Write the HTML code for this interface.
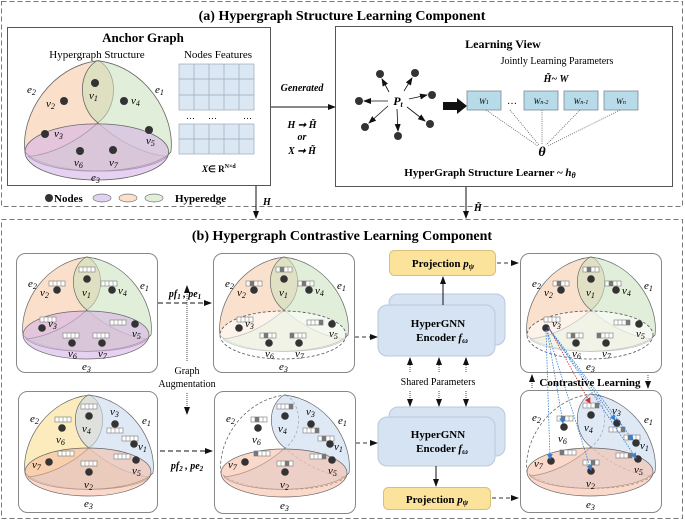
<!DOCTYPE html>
<html><head><meta charset="utf-8"><style>
html,body{margin:0;padding:0;background:#fff}
svg{display:block;font-family:"Liberation Serif",serif}
.t{font-size:11px;font-style:italic}
</style></head><body>
<svg width="685" height="521" viewBox="0 0 685 521" xmlns="http://www.w3.org/2000/svg">
<defs>
<marker id="ah" markerWidth="8" markerHeight="8" refX="7" refY="4" orient="auto" markerUnits="userSpaceOnUse"><path d="M0,1 L8,4 L0,7 Z" fill="#111"/></marker>
<marker id="ahb" markerWidth="6" markerHeight="6" refX="5" refY="3" orient="auto" markerUnits="userSpaceOnUse"><path d="M0,0 L6,3 L0,6 Z" fill="#3a7fd0"/></marker>
<marker id="ahr" markerWidth="6" markerHeight="6" refX="5" refY="3" orient="auto" markerUnits="userSpaceOnUse"><path d="M0,0 L6,3 L0,6 Z" fill="#d03030"/></marker>
<path id="e2p" d="M72,4 C90,15 88,45 71,57 C90,74 112,84 132,86 C110,104 25,102 7,82 C3,50 30,8 72,4 Z"/>
<g id="e1p"><use href="#e2p" transform="translate(142,0) scale(-1,1)"/></g>
<g id="fb"><rect x="0" y="0" width="16" height="5" fill="#fff" stroke="#888" stroke-width="0.7"/><path d="M4,0V5M8,0V5M12,0V5" stroke="#888" stroke-width="0.6"/></g>
<g id="fbm1"><use href="#fb"/><rect x="4" y="0" width="4" height="5" fill="#777"/></g>
<g id="fbm0"><use href="#fb"/><rect x="0" y="0" width="4" height="5" fill="#777"/></g>
<g id="fbm3"><use href="#fb"/><rect x="12" y="0" width="4" height="5" fill="#777"/></g>
<g id="fbm2"><use href="#fb"/><rect x="8" y="0" width="4" height="5" fill="#777"/></g>
</defs>

<rect x="1.5" y="1.5" width="681" height="205" fill="none" stroke="#777" stroke-dasharray="5,3" stroke-width="1"/>
<rect x="1.5" y="219.5" width="681" height="299" fill="none" stroke="#777" stroke-dasharray="5,3" stroke-width="1"/>
<text x="342" y="20" font-size="14" font-weight="bold" text-anchor="middle">(a) Hypergraph Structure Learning Component</text>
<text x="342" y="240" font-size="14" font-weight="bold" text-anchor="middle">(b) Hypergraph Contrastive Learning Component</text>

<!-- Anchor graph -->
<rect x="7.5" y="27.5" width="263" height="158" fill="#fff" stroke="#555"/>
<text x="143" y="42" font-size="13" font-weight="bold" text-anchor="middle">Anchor Graph</text>
<text x="97" y="58" font-size="11" text-anchor="middle">Hypergraph Structure</text>
<text x="218" y="58" font-size="11" text-anchor="middle">Nodes Features</text>
<g transform="translate(17,56) scale(1.14,1.17)" stroke="#666" stroke-width="0.7">
 <use href="#e2p" fill="#f6c9a6" fill-opacity="0.6"/>
 <use href="#e1p" fill="#c8e0bb" fill-opacity="0.55"/>
 <ellipse cx="70" cy="82" rx="63" ry="24" fill="#d6b4e6" fill-opacity="0.6"/>
</g>
<g fill="#333"><circle cx="95" cy="83" r="4"/><circle cx="64" cy="101" r="4"/><circle cx="124" cy="101" r="4"/><circle cx="45" cy="134" r="4"/><circle cx="149" cy="130" r="4"/><circle cx="80" cy="151" r="4"/><circle cx="113" cy="150" r="4"/></g>
<g class="t" font-size="13">
<text x="89" y="99">v<tspan font-size="8" dy="2">1</tspan></text>
<text x="46" y="107">v<tspan font-size="8" dy="2">2</tspan></text>
<text x="131" y="104">v<tspan font-size="8" dy="2">4</tspan></text>
<text x="54" y="137">v<tspan font-size="8" dy="2">3</tspan></text>
<text x="146" y="144">v<tspan font-size="8" dy="2">5</tspan></text>
<text x="74" y="166">v<tspan font-size="8" dy="2">6</tspan></text>
<text x="109" y="166">v<tspan font-size="8" dy="2">7</tspan></text>
<text x="27" y="93">e<tspan font-size="8" dy="2">2</tspan></text>
<text x="155" y="93">e<tspan font-size="8" dy="2">1</tspan></text>
<text x="91" y="181">e<tspan font-size="8" dy="2">3</tspan></text>
</g>
<g fill="#dbe7f3" stroke="#9aaabb" stroke-width="0.7">
 <rect x="179" y="64" width="75" height="46"/>
 <rect x="179" y="124" width="75" height="30"/>
</g>
<path d="M194,64V110M209,64V110M224,64V110M239,64V110M179,79H254M179,95H254M194,124V154M209,124V154M224,124V154M239,124V154M179,139H254" stroke="#9aaabb" stroke-width="0.7"/>
<text x="186" y="119" font-size="9">…</text><text x="208" y="119" font-size="9">…</text><text x="243" y="119" font-size="9">…</text>
<text x="202" y="172" font-size="9" font-weight="bold" font-style="italic">X<tspan font-style="normal">∈ R</tspan><tspan font-size="6" dy="-4" font-style="normal">N×d</tspan></text>

<circle cx="49" cy="198" r="4" fill="#333"/>
<text x="54" y="202" font-size="11" font-weight="bold">Nodes</text>
<ellipse cx="102" cy="198" rx="9" ry="4" fill="#e3d1f0" stroke="#777" stroke-width="0.7"/>
<ellipse cx="128" cy="198" rx="9" ry="4" fill="#fbe0cc" stroke="#777" stroke-width="0.7"/>
<ellipse cx="154" cy="198" rx="9" ry="4" fill="#e1efd8" stroke="#777" stroke-width="0.7"/>
<text x="175" y="202" font-size="11" font-weight="bold">Hyperedge</text>

<line x1="271" y1="107" x2="335" y2="107" stroke="#111" marker-end="url(#ah)"/>
<text x="302" y="91" font-size="10" font-weight="bold" font-style="italic" text-anchor="middle">Generated</text>
<text x="302" y="128" font-size="10" font-weight="bold" font-style="italic" text-anchor="middle">H ➞ H̃</text>
<text x="302" y="140" font-size="10" font-weight="bold" font-style="italic" text-anchor="middle">or</text>
<text x="302" y="154" font-size="10" font-weight="bold" font-style="italic" text-anchor="middle">X ➞ H̃</text>

<line x1="256" y1="186" x2="256" y2="218" stroke="#111" marker-end="url(#ah)"/>
<text x="263" y="205" font-size="10" font-weight="bold" font-style="italic">H</text>
<line x1="466" y1="187" x2="466" y2="218" stroke="#111" marker-end="url(#ah)"/>
<text x="474" y="211" font-size="10" font-weight="bold" font-style="italic">H̃</text>

<rect x="335.5" y="26.5" width="337" height="160" fill="#fff" stroke="#555"/>
<text x="503" y="48" font-size="12" font-weight="bold" text-anchor="middle">Learning View</text>
<text x="557" y="64" font-size="10" text-anchor="middle">Jointly Learning Parameters</text>
<text x="556" y="82" font-size="10" font-weight="bold" font-style="italic" text-anchor="middle">H̃~ W</text>
<text x="398" y="105" font-size="12" font-weight="bold" font-style="italic" text-anchor="middle">P<tspan font-size="8" dy="2">t</tspan></text>
<g fill="#333"><circle cx="380" cy="74" r="4"/><circle cx="415" cy="73" r="4"/><circle cx="432" cy="95" r="4"/><circle cx="359" cy="101" r="4"/><circle cx="365" cy="127" r="4"/><circle cx="398" cy="136" r="4"/><circle cx="430" cy="124" r="4"/></g>
<g stroke="#111" stroke-width="0.8" marker-end="url(#ah)">
<line x1="389" y1="92" x2="382" y2="79"/><line x1="404" y1="91" x2="412" y2="78"/><line x1="409" y1="99" x2="427" y2="95"/><line x1="388" y1="101" x2="364" y2="101"/><line x1="388" y1="106" x2="369" y2="123"/><line x1="397" y1="109" x2="398" y2="131"/><line x1="407" y1="107" x2="425" y2="121"/>
</g>
<path d="M443,102 H457 V98 L467,106 L457,114 V110 H443 Z" fill="#111"/>
<g fill="#b7dbe8" stroke="#7a8a95" stroke-width="0.8">
<rect x="467" y="91" width="34" height="19"/><rect x="524" y="91" width="34" height="19"/><rect x="564" y="91" width="34" height="19"/><rect x="604" y="91" width="34" height="19"/>
</g>
<g font-size="8" font-style="italic" text-anchor="middle">
<text x="484" y="104">W<tspan font-size="6">1</tspan></text><text x="541" y="104">W<tspan font-size="6">n-2</tspan></text><text x="581" y="104">W<tspan font-size="6">n-1</tspan></text><text x="621" y="104">W<tspan font-size="6">n</tspan></text>
</g>
<text x="512" y="104" font-size="10" text-anchor="middle">…</text>
<g stroke="#444" stroke-width="0.7" stroke-dasharray="1,1.2" fill="none">
<path d="M486,110 L538,146 M510,110 L539,145 M542,110 L542,144 M580,110 L546,145 M620,110 L548,146"/>
</g>
<text x="542" y="156" font-size="14" font-weight="bold" font-style="italic" text-anchor="middle">θ</text>
<text x="490" y="176" font-size="11" font-weight="bold" text-anchor="middle">HyperGraph Structure Learner ~ <tspan font-style="italic">h<tspan font-size="8" dy="2">θ</tspan></tspan></text>

<!-- panel 1 -->
<g transform="translate(16,253)">
 <rect x="0.5" y="0.5" width="141" height="119" rx="9" fill="#fff" stroke="#888"/>
 <g stroke="#666" stroke-width="0.7">
 <use href="#e2p" fill="#f6c9a6" fill-opacity="0.6"/>
 <use href="#e1p" fill="#c8e0bb" fill-opacity="0.55"/>
 <ellipse cx="70" cy="82" rx="63" ry="24" fill="#d6b4e6" fill-opacity="0.6"/>
 </g>
 <use href="#fb" x="63" y="14"/><use href="#fb" x="33" y="28"/><use href="#fb" x="85" y="28"/><use href="#fb" x="24" y="64"/><use href="#fb" x="94" y="67"/><use href="#fb" x="47" y="80"/><use href="#fb" x="77" y="80"/>
 <g fill="#333"><circle cx="71" cy="26" r="3.8"/><circle cx="41" cy="37" r="3.8"/><circle cx="96" cy="37" r="3.8"/><circle cx="26" cy="75" r="3.8"/><circle cx="119" cy="71" r="3.8"/><circle cx="56" cy="90" r="3.8"/><circle cx="86" cy="90" r="3.8"/></g>
 <g class="t" font-size="12">
  <text x="66" y="43">v<tspan font-size="8" dy="2">1</tspan></text><text x="24" y="43">v<tspan font-size="8" dy="2">2</tspan></text><text x="102" y="41">v<tspan font-size="8" dy="2">4</tspan></text><text x="32" y="74">v<tspan font-size="8" dy="2">3</tspan></text><text x="116" y="84">v<tspan font-size="8" dy="2">5</tspan></text><text x="52" y="104">v<tspan font-size="8" dy="2">6</tspan></text><text x="82" y="104">v<tspan font-size="8" dy="2">7</tspan></text>
  <text x="12" y="34">e<tspan font-size="8" dy="2">2</tspan></text><text x="124" y="36">e<tspan font-size="8" dy="2">1</tspan></text><text x="66" y="117">e<tspan font-size="8" dy="2">3</tspan></text>
 </g>
</g>

<!-- panel 2 -->
<g transform="translate(213,253)">
 <rect x="0.5" y="0.5" width="141" height="119" rx="9" fill="#fff" stroke="#888"/>
 <g stroke="#666" stroke-width="0.7">
 <use href="#e2p" fill="#f6c9a6" fill-opacity="0.55"/>
 <use href="#e1p" fill="#c8e0bb" fill-opacity="0.55"/>
 <ellipse cx="70" cy="82" rx="63" ry="24" fill="#fff" fill-opacity="0.6" stroke="#555" stroke-width="0.8" stroke-dasharray="3,2"/>
 </g>
 <use href="#fbm1" x="63" y="14"/><use href="#fbm1" x="33" y="28"/><use href="#fbm1" x="85" y="28"/><use href="#fb" x="24" y="64"/><use href="#fbm3" x="94" y="67"/><use href="#fbm1" x="47" y="80"/><use href="#fbm0" x="77" y="80"/>
 <g fill="#333"><circle cx="71" cy="26" r="3.8"/><circle cx="41" cy="37" r="3.8"/><circle cx="96" cy="37" r="3.8"/><circle cx="26" cy="75" r="3.8"/><circle cx="119" cy="71" r="3.8"/><circle cx="56" cy="90" r="3.8"/><circle cx="86" cy="90" r="3.8"/></g>
 <g class="t" font-size="12">
  <text x="66" y="43">v<tspan font-size="8" dy="2">1</tspan></text><text x="24" y="43">v<tspan font-size="8" dy="2">2</tspan></text><text x="102" y="41">v<tspan font-size="8" dy="2">4</tspan></text><text x="32" y="74">v<tspan font-size="8" dy="2">3</tspan></text><text x="116" y="84">v<tspan font-size="8" dy="2">5</tspan></text><text x="52" y="104">v<tspan font-size="8" dy="2">6</tspan></text><text x="82" y="104">v<tspan font-size="8" dy="2">7</tspan></text>
  <text x="12" y="34">e<tspan font-size="8" dy="2">2</tspan></text><text x="124" y="36">e<tspan font-size="8" dy="2">1</tspan></text><text x="66" y="117">e<tspan font-size="8" dy="2">3</tspan></text>
 </g>
</g>

<!-- right top -->
<g transform="translate(520,253)">
 <rect x="0.5" y="0.5" width="141" height="119" rx="9" fill="#fff" stroke="#888"/>
 <g stroke="#666" stroke-width="0.7">
 <use href="#e2p" fill="#f6c9a6" fill-opacity="0.55"/>
 <use href="#e1p" fill="#c8e0bb" fill-opacity="0.55"/>
 <ellipse cx="70" cy="82" rx="63" ry="24" fill="#fff" fill-opacity="0.6" stroke="#555" stroke-width="0.8" stroke-dasharray="3,2"/>
 </g>
 <use href="#fbm1" x="63" y="14"/><use href="#fbm1" x="33" y="28"/><use href="#fbm1" x="85" y="28"/><use href="#fb" x="24" y="64"/><use href="#fbm3" x="94" y="67"/><use href="#fbm1" x="47" y="80"/><use href="#fbm0" x="77" y="80"/>
 <g fill="#333"><circle cx="71" cy="26" r="3.8"/><circle cx="41" cy="37" r="3.8"/><circle cx="96" cy="37" r="3.8"/><circle cx="26" cy="75" r="3.8"/><circle cx="119" cy="71" r="3.8"/><circle cx="56" cy="90" r="3.8"/><circle cx="86" cy="90" r="3.8"/></g>
 <g class="t" font-size="12">
  <text x="66" y="43">v<tspan font-size="8" dy="2">1</tspan></text><text x="24" y="43">v<tspan font-size="8" dy="2">2</tspan></text><text x="102" y="41">v<tspan font-size="8" dy="2">4</tspan></text><text x="32" y="74">v<tspan font-size="8" dy="2">3</tspan></text><text x="116" y="84">v<tspan font-size="8" dy="2">5</tspan></text><text x="52" y="104">v<tspan font-size="8" dy="2">6</tspan></text><text x="82" y="104">v<tspan font-size="8" dy="2">7</tspan></text>
  <text x="12" y="34">e<tspan font-size="8" dy="2">2</tspan></text><text x="124" y="36">e<tspan font-size="8" dy="2">1</tspan></text><text x="66" y="117">e<tspan font-size="8" dy="2">3</tspan></text>
 </g>
</g>

<!-- panel 3 -->
<g transform="translate(18,391)">
 <rect x="0.5" y="0.5" width="139" height="121" rx="9" fill="#fff" stroke="#888"/>
 <g stroke="#666" stroke-width="0.7">
 <use href="#e2p" fill="#fbe29a" fill-opacity="0.65"/>
 <use href="#e1p" fill="#c9daf0" fill-opacity="0.6"/>
 <ellipse cx="70" cy="81" rx="63" ry="24" fill="#f5b9a0" fill-opacity="0.55"/>
 </g>
 <use href="#fb" x="63" y="13"/><use href="#fb" x="37" y="26"/><use href="#fb" x="89" y="37"/><use href="#fb" x="104" y="45"/><use href="#fb" x="40" y="60"/><use href="#fb" x="96" y="63"/><use href="#fb" x="63" y="70"/>
 <g fill="#333"><circle cx="71" cy="25" r="3.8"/><circle cx="44" cy="37" r="3.8"/><circle cx="97" cy="33" r="3.8"/><circle cx="116" cy="53" r="3.8"/><circle cx="31" cy="71" r="3.8"/><circle cx="118" cy="69" r="3.8"/><circle cx="71" cy="81" r="3.8"/></g>
 <g class="t" font-size="12">
  <text x="64" y="41">v<tspan font-size="8" dy="2">4</tspan></text><text x="38" y="52">v<tspan font-size="8" dy="2">6</tspan></text><text x="92" y="24">v<tspan font-size="8" dy="2">3</tspan></text><text x="120" y="59">v<tspan font-size="8" dy="2">1</tspan></text><text x="14" y="77">v<tspan font-size="8" dy="2">7</tspan></text><text x="114" y="83">v<tspan font-size="8" dy="2">5</tspan></text><text x="66" y="97">v<tspan font-size="8" dy="2">2</tspan></text>
  <text x="12" y="31">e<tspan font-size="8" dy="2">2</tspan></text><text x="124" y="33">e<tspan font-size="8" dy="2">1</tspan></text><text x="66" y="116">e<tspan font-size="8" dy="2">3</tspan></text>
 </g>
</g>

<!-- panel 4 -->
<g transform="translate(214,391)">
 <rect x="0.5" y="0.5" width="141" height="122" rx="9" fill="#fff" stroke="#888"/>
 <use href="#e2p" fill="none" stroke="#555" stroke-width="0.7" stroke-dasharray="3,2"/>
 <g stroke="#666" stroke-width="0.7">
 <use href="#e1p" fill="#c9daf0" fill-opacity="0.6"/>
 <ellipse cx="70" cy="82" rx="63" ry="24" fill="#f5b9a0" fill-opacity="0.55"/>
 </g>
 <use href="#fbm3" x="63" y="13"/><use href="#fbm1" x="37" y="26"/><use href="#fbm3" x="89" y="37"/><use href="#fbm1" x="104" y="45"/><use href="#fbm0" x="40" y="60"/><use href="#fbm3" x="96" y="63"/><use href="#fbm2" x="63" y="70"/>
 <g fill="#333"><circle cx="71" cy="25" r="3.8"/><circle cx="44" cy="37" r="3.8"/><circle cx="97" cy="33" r="3.8"/><circle cx="116" cy="53" r="3.8"/><circle cx="31" cy="71" r="3.8"/><circle cx="118" cy="69" r="3.8"/><circle cx="71" cy="81" r="3.8"/></g>
 <g class="t" font-size="12">
  <text x="64" y="41">v<tspan font-size="8" dy="2">4</tspan></text><text x="38" y="52">v<tspan font-size="8" dy="2">6</tspan></text><text x="92" y="24">v<tspan font-size="8" dy="2">3</tspan></text><text x="120" y="59">v<tspan font-size="8" dy="2">1</tspan></text><text x="14" y="77">v<tspan font-size="8" dy="2">7</tspan></text><text x="114" y="83">v<tspan font-size="8" dy="2">5</tspan></text><text x="66" y="97">v<tspan font-size="8" dy="2">2</tspan></text>
  <text x="12" y="31">e<tspan font-size="8" dy="2">2</tspan></text><text x="124" y="33">e<tspan font-size="8" dy="2">1</tspan></text><text x="66" y="118">e<tspan font-size="8" dy="2">3</tspan></text>
 </g>
</g>

<!-- right bottom -->
<g transform="translate(520,390)">
 <rect x="0.5" y="0.5" width="141" height="122" rx="9" fill="#fff" stroke="#888"/>
 <use href="#e2p" fill="none" stroke="#555" stroke-width="0.7" stroke-dasharray="3,2"/>
 <g stroke="#666" stroke-width="0.7">
 <use href="#e1p" fill="#c9daf0" fill-opacity="0.6"/>
 <ellipse cx="70" cy="82" rx="63" ry="24" fill="#f5b9a0" fill-opacity="0.55"/>
 </g>
 <use href="#fbm3" x="63" y="13"/><use href="#fbm1" x="37" y="26"/><use href="#fbm3" x="89" y="37"/><use href="#fbm1" x="104" y="45"/><use href="#fbm0" x="40" y="60"/><use href="#fbm3" x="96" y="63"/><use href="#fbm2" x="63" y="70"/>
 <g fill="#333"><circle cx="71" cy="25" r="3.8"/><circle cx="44" cy="37" r="3.8"/><circle cx="97" cy="33" r="3.8"/><circle cx="116" cy="53" r="3.8"/><circle cx="31" cy="71" r="3.8"/><circle cx="118" cy="69" r="3.8"/><circle cx="71" cy="81" r="3.8"/></g>
 <g class="t" font-size="12">
  <text x="64" y="41">v<tspan font-size="8" dy="2">4</tspan></text><text x="38" y="52">v<tspan font-size="8" dy="2">6</tspan></text><text x="92" y="24">v<tspan font-size="8" dy="2">3</tspan></text><text x="120" y="59">v<tspan font-size="8" dy="2">1</tspan></text><text x="14" y="77">v<tspan font-size="8" dy="2">7</tspan></text><text x="114" y="83">v<tspan font-size="8" dy="2">5</tspan></text><text x="66" y="97">v<tspan font-size="8" dy="2">2</tspan></text>
  <text x="12" y="31">e<tspan font-size="8" dy="2">2</tspan></text><text x="124" y="33">e<tspan font-size="8" dy="2">1</tspan></text><text x="66" y="118">e<tspan font-size="8" dy="2">3</tspan></text>
 </g>
</g>

<g stroke="#3a7fd0" stroke-width="0.8" stroke-dasharray="1.5,1.2" fill="none" marker-end="url(#ahb)">
<line x1="546" y1="330" x2="550" y2="459"/>
<line x1="547" y1="330" x2="563" y2="423"/>
<line x1="547" y1="330" x2="591" y2="470"/>
<line x1="548" y1="328" x2="615" y2="420"/>
<line x1="548" y1="327" x2="633" y2="440"/>
<line x1="548" y1="327" x2="636" y2="458"/>
</g>
<line x1="549" y1="328" x2="590" y2="403" stroke="#d03030" stroke-width="0.8" stroke-dasharray="1.5,1.2" marker-end="url(#ahr)"/>

<line x1="158" y1="303" x2="211" y2="303" stroke="#111" stroke-dasharray="5,3" marker-end="url(#ah)"/>
<text x="185" y="297" font-size="10" font-weight="bold" font-style="italic" text-anchor="middle">pf<tspan font-size="7" dy="2">1</tspan><tspan dy="-2"> , pe</tspan><tspan font-size="7" dy="2">1</tspan></text>
<line x1="160" y1="451" x2="212" y2="451" stroke="#111" stroke-dasharray="5,3" marker-end="url(#ah)"/>
<text x="187" y="469" font-size="10" font-weight="bold" font-style="italic" text-anchor="middle">pf<tspan font-size="7" dy="2">2</tspan><tspan dy="-2"> , pe</tspan><tspan font-size="7" dy="2">2</tspan></text>
<g stroke="#222" stroke-width="0.8" stroke-dasharray="1,1" marker-end="url(#ah)">
<line x1="187" y1="361" x2="187" y2="286"/>
<line x1="187" y1="393" x2="187" y2="414"/>
</g>
<text x="187" y="374" font-size="10" text-anchor="middle">Graph</text>
<text x="187" y="387" font-size="10" text-anchor="middle">Augmentation</text>

<line x1="355" y1="337" x2="377" y2="337" stroke="#333" stroke-dasharray="4,3" marker-end="url(#ah)"/>
<line x1="356" y1="443" x2="377" y2="443" stroke="#333" stroke-dasharray="4,3" marker-end="url(#ah)"/>

<rect x="389" y="294" width="116" height="51" rx="9" fill="#d5e3f3" stroke="#b9c8da"/>
<rect x="378" y="305" width="117" height="51" rx="9" fill="#d5e3f3" stroke="#b9c8da"/>
<text x="438" y="327" font-size="11" font-weight="bold" text-anchor="middle">HyperGNN</text>
<text x="442" y="341" font-size="11" font-weight="bold" text-anchor="middle">Encoder <tspan font-style="italic">f<tspan font-size="8" dy="2">ω</tspan></tspan></text>
<rect x="389" y="407" width="116" height="49" rx="9" fill="#d5e3f3" stroke="#b9c8da"/>
<rect x="378" y="417" width="117" height="49" rx="9" fill="#d5e3f3" stroke="#b9c8da"/>
<text x="438" y="438" font-size="11" font-weight="bold" text-anchor="middle">HyperGNN</text>
<text x="442" y="452" font-size="11" font-weight="bold" text-anchor="middle">Encoder <tspan font-style="italic">f<tspan font-size="8" dy="2">ω</tspan></tspan></text>

<rect x="389.5" y="250.5" width="106" height="25" rx="5" fill="#fbe39b" stroke="#d8c07a"/>
<text x="443" y="267" font-size="11" font-weight="bold" text-anchor="middle">Projection <tspan font-style="italic">p<tspan font-size="8" dy="2">ψ</tspan></tspan></text>
<rect x="383.5" y="487.5" width="107" height="22" rx="5" fill="#fbe39b" stroke="#d8c07a"/>
<text x="437" y="503" font-size="11" font-weight="bold" text-anchor="middle">Projection <tspan font-style="italic">p<tspan font-size="8" dy="2">ψ</tspan></tspan></text>
<line x1="443" y1="305" x2="443" y2="277" stroke="#111" marker-end="url(#ah)"/>
<line x1="436" y1="466" x2="436" y2="486" stroke="#111" marker-end="url(#ah)"/>
<line x1="497" y1="263" x2="518" y2="263" stroke="#333" stroke-dasharray="4,3" marker-end="url(#ah)"/>
<line x1="492" y1="498" x2="518" y2="498" stroke="#333" stroke-dasharray="4,3" marker-end="url(#ah)"/>

<g stroke="#222" stroke-width="0.8" stroke-dasharray="1,1" marker-end="url(#ah)">
<line x1="410" y1="372" x2="410" y2="358"/><line x1="439" y1="372" x2="439" y2="358"/><line x1="466" y1="372" x2="466" y2="358"/>
<line x1="410" y1="391" x2="410" y2="406"/><line x1="439" y1="391" x2="439" y2="406"/><line x1="466" y1="391" x2="466" y2="406"/>
</g>
<text x="438" y="385" font-size="10" text-anchor="middle">Shared Parameters</text>

<text x="590" y="386" font-size="11" font-weight="bold" text-anchor="middle">Contrastive Learning</text>
<g stroke="#222" stroke-width="0.8" stroke-dasharray="1,1" marker-end="url(#ah)">
<line x1="532" y1="388" x2="532" y2="375"/><line x1="648" y1="375" x2="648" y2="388"/>
</g>
</svg>
</body></html>
